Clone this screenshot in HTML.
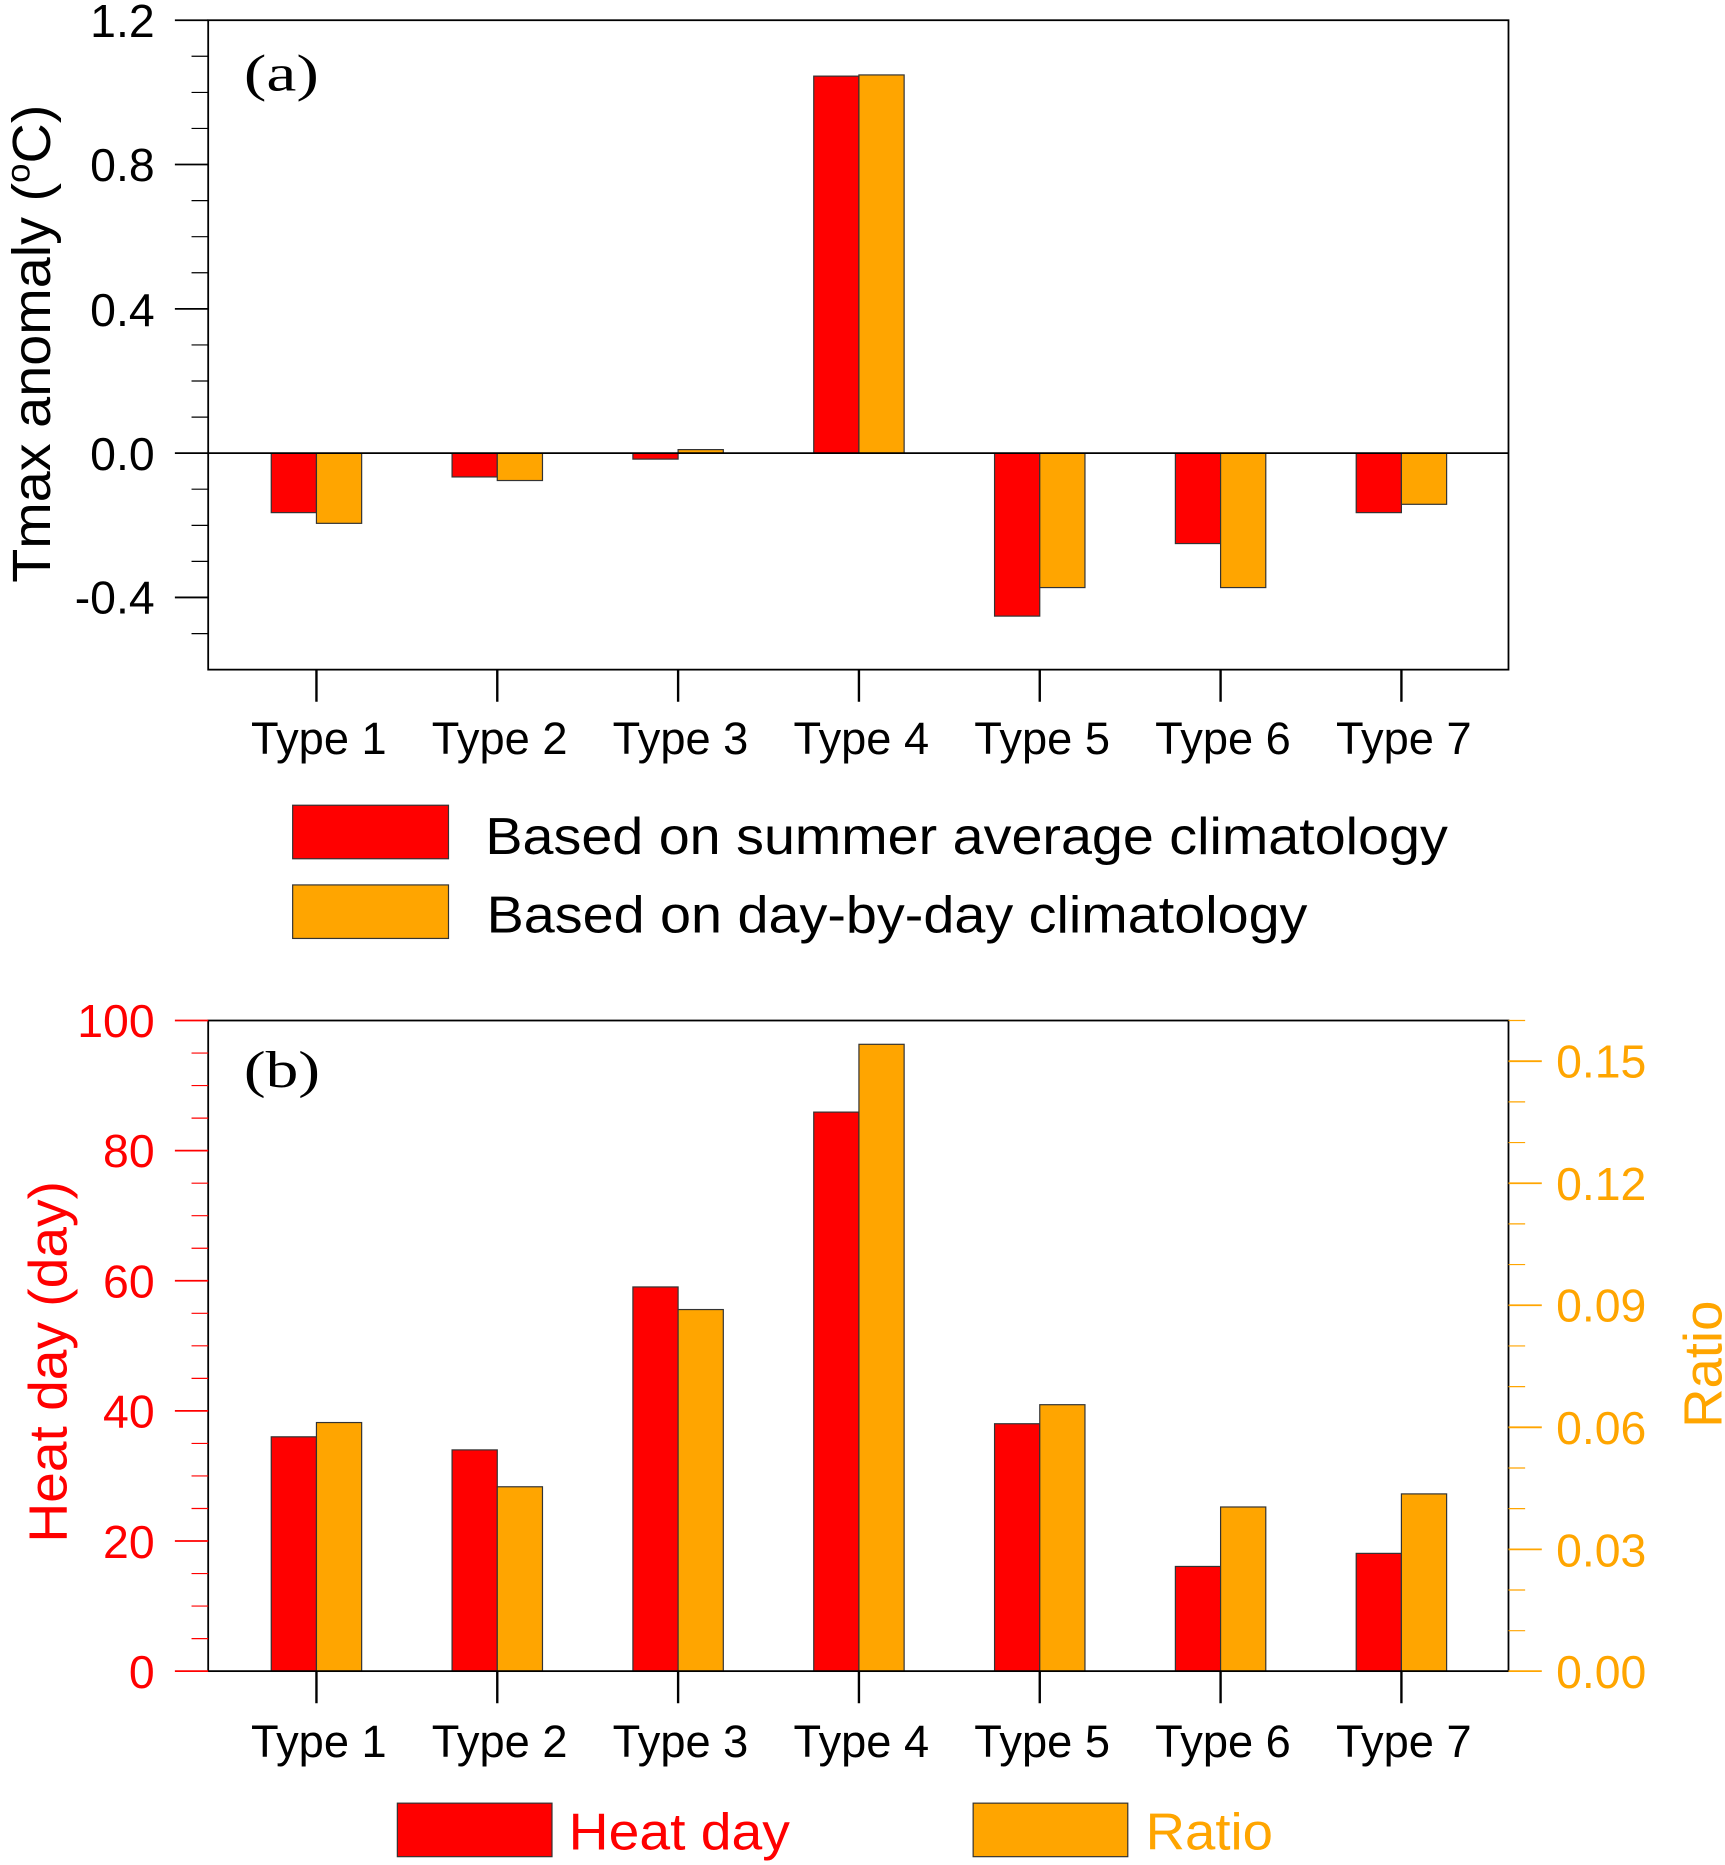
<!DOCTYPE html>
<html><head><meta charset="utf-8"><style>html,body{margin:0;padding:0;background:#fff}svg{display:block}</style></head>
<body>
<svg width="1725" height="1865" viewBox="0 0 1450 1568" preserveAspectRatio="none" xmlns="http://www.w3.org/2000/svg" font-family="Liberation Sans, sans-serif">
<rect width="1450" height="1568" fill="#fff"/>
<g id="a">
<g stroke="#333" stroke-width="1">
<rect x="228" y="381" width="38" height="50" fill="#ff0000"/>
<rect x="266" y="381" width="38" height="59" fill="#ffa500"/>
<rect x="380" y="381" width="38" height="20" fill="#ff0000"/>
<rect x="418" y="381" width="38" height="23" fill="#ffa500"/>
<rect x="532" y="381" width="38" height="5" fill="#ff0000"/>
<rect x="570" y="378" width="38" height="3" fill="#ffa500"/>
<rect x="684" y="64" width="38" height="317" fill="#ff0000"/>
<rect x="722" y="63" width="38" height="318" fill="#ffa500"/>
<rect x="836" y="381" width="38" height="137" fill="#ff0000"/>
<rect x="874" y="381" width="38" height="113" fill="#ffa500"/>
<rect x="988" y="381" width="38" height="76" fill="#ff0000"/>
<rect x="1026" y="381" width="38" height="113" fill="#ffa500"/>
<rect x="1140" y="381" width="38" height="50" fill="#ff0000"/>
<rect x="1178" y="381" width="38" height="43" fill="#ffa500"/>
</g>
<line x1="175" y1="381" x2="1268" y2="381" stroke="#000" stroke-width="1.5"/>
<rect x="175" y="17" width="1093" height="546" fill="none" stroke="#000" stroke-width="1.5"/>
<g stroke="#000" stroke-width="1.5">
<line x1="147" y1="17" x2="175" y2="17"/><line x1="147" y1="138.3" x2="175" y2="138.3"/><line x1="147" y1="259.7" x2="175" y2="259.7"/><line x1="147" y1="381" x2="175" y2="381"/><line x1="147" y1="502.3" x2="175" y2="502.3"/>
</g>
<g stroke="#000" stroke-width="1">
<line x1="161" y1="47.3" x2="175" y2="47.3"/><line x1="161" y1="77.7" x2="175" y2="77.7"/><line x1="161" y1="108" x2="175" y2="108"/>
<line x1="161" y1="168.7" x2="175" y2="168.7"/><line x1="161" y1="199" x2="175" y2="199"/><line x1="161" y1="229.3" x2="175" y2="229.3"/>
<line x1="161" y1="290" x2="175" y2="290"/><line x1="161" y1="320.3" x2="175" y2="320.3"/><line x1="161" y1="350.7" x2="175" y2="350.7"/>
<line x1="161" y1="411.3" x2="175" y2="411.3"/><line x1="161" y1="441.7" x2="175" y2="441.7"/><line x1="161" y1="472" x2="175" y2="472"/>
<line x1="161" y1="532.7" x2="175" y2="532.7"/>
</g>
<g stroke="#000" stroke-width="2">
<line x1="266" y1="563" x2="266" y2="590"/><line x1="418" y1="563" x2="418" y2="590"/><line x1="570" y1="563" x2="570" y2="590"/><line x1="722" y1="563" x2="722" y2="590"/><line x1="874" y1="563" x2="874" y2="590"/><line x1="1026" y1="563" x2="1026" y2="590"/><line x1="1178" y1="563" x2="1178" y2="590"/>
</g>
<g font-size="39" text-anchor="end">
<text x="130" y="31">1.2</text><text x="130" y="152">0.8</text><text x="130" y="274">0.4</text><text x="130" y="395">0.0</text><text x="130" y="516">-0.4</text>
</g>
<g font-size="38" text-anchor="middle">
<text x="268" y="634">Type 1</text><text x="420" y="634">Type 2</text><text x="572" y="634">Type 3</text><text x="724" y="634">Type 4</text><text x="876" y="634">Type 5</text><text x="1028" y="634">Type 6</text><text x="1180" y="634">Type 7</text>
</g>
<text x="205" y="76" font-family="Liberation Serif, serif" font-size="44" textLength="63" lengthAdjust="spacingAndGlyphs">(a)</text>
<text transform="translate(42,289) rotate(-90)" font-size="45" text-anchor="middle" textLength="402" lengthAdjust="spacingAndGlyphs">Tmax anomaly (<tspan font-size="28" dy="-17">o</tspan><tspan dy="17">C)</tspan></text>
<rect x="246" y="677" width="131" height="45" fill="#ff0000" stroke="#333" stroke-width="1"/>
<rect x="246" y="744" width="131" height="45" fill="#ffa500" stroke="#333" stroke-width="1"/>
<text x="408" y="718" font-size="44" textLength="809" lengthAdjust="spacingAndGlyphs">Based on summer average climatology</text>
<text x="409" y="784" font-size="44" textLength="690" lengthAdjust="spacingAndGlyphs">Based on day-by-day climatology</text>
</g>
<g id="b">
<g stroke="#333" stroke-width="1">
<rect x="228" y="1208" width="38" height="197" fill="#ff0000"/>
<rect x="266" y="1196" width="38" height="209" fill="#ffa500"/>
<rect x="380" y="1219" width="38" height="186" fill="#ff0000"/>
<rect x="418" y="1250" width="38" height="155" fill="#ffa500"/>
<rect x="532" y="1082" width="38" height="323" fill="#ff0000"/>
<rect x="570" y="1101" width="38" height="304" fill="#ffa500"/>
<rect x="684" y="935" width="38" height="470" fill="#ff0000"/>
<rect x="722" y="878" width="38" height="527" fill="#ffa500"/>
<rect x="836" y="1197" width="38" height="208" fill="#ff0000"/>
<rect x="874" y="1181" width="38" height="224" fill="#ffa500"/>
<rect x="988" y="1317" width="38" height="88" fill="#ff0000"/>
<rect x="1026" y="1267" width="38" height="138" fill="#ffa500"/>
<rect x="1140" y="1306" width="38" height="99" fill="#ff0000"/>
<rect x="1178" y="1256" width="38" height="149" fill="#ffa500"/>
</g>
<rect x="175" y="858" width="1093" height="547" fill="none" stroke="#000" stroke-width="1.5"/>
<g stroke="#ff0000" stroke-width="1.5">
<line x1="147" y1="858" x2="175" y2="858"/><line x1="147" y1="967.4" x2="175" y2="967.4"/><line x1="147" y1="1076.8" x2="175" y2="1076.8"/><line x1="147" y1="1186.2" x2="175" y2="1186.2"/><line x1="147" y1="1295.6" x2="175" y2="1295.6"/><line x1="147" y1="1405" x2="175" y2="1405"/>
</g>
<g stroke="#ff0000" stroke-width="1">
<line x1="161" y1="885.35" x2="175" y2="885.35"/><line x1="161" y1="912.7" x2="175" y2="912.7"/><line x1="161" y1="940.05" x2="175" y2="940.05"/>
<line x1="161" y1="994.75" x2="175" y2="994.75"/><line x1="161" y1="1022.1" x2="175" y2="1022.1"/><line x1="161" y1="1049.45" x2="175" y2="1049.45"/>
<line x1="161" y1="1104.15" x2="175" y2="1104.15"/><line x1="161" y1="1131.5" x2="175" y2="1131.5"/><line x1="161" y1="1158.85" x2="175" y2="1158.85"/>
<line x1="161" y1="1213.55" x2="175" y2="1213.55"/><line x1="161" y1="1240.9" x2="175" y2="1240.9"/><line x1="161" y1="1268.25" x2="175" y2="1268.25"/>
<line x1="161" y1="1322.95" x2="175" y2="1322.95"/><line x1="161" y1="1350.3" x2="175" y2="1350.3"/><line x1="161" y1="1377.65" x2="175" y2="1377.65"/>
</g>
<g stroke="#ffa500" stroke-width="1.5">
<line x1="1268" y1="892.2" x2="1296" y2="892.2"/><line x1="1268" y1="994.8" x2="1296" y2="994.8"/><line x1="1268" y1="1097.4" x2="1296" y2="1097.4"/><line x1="1268" y1="1200" x2="1296" y2="1200"/><line x1="1268" y1="1302.6" x2="1296" y2="1302.6"/><line x1="1268" y1="1405" x2="1296" y2="1405"/>
</g>
<g stroke="#ffa500" stroke-width="1">
<line x1="1268" y1="858" x2="1282" y2="858"/><line x1="1268" y1="926.4" x2="1282" y2="926.4"/><line x1="1268" y1="960.6" x2="1282" y2="960.6"/>
<line x1="1268" y1="1029" x2="1282" y2="1029"/><line x1="1268" y1="1063.2" x2="1282" y2="1063.2"/>
<line x1="1268" y1="1131.6" x2="1282" y2="1131.6"/><line x1="1268" y1="1165.8" x2="1282" y2="1165.8"/>
<line x1="1268" y1="1234.2" x2="1282" y2="1234.2"/><line x1="1268" y1="1268.4" x2="1282" y2="1268.4"/>
<line x1="1268" y1="1336.8" x2="1282" y2="1336.8"/><line x1="1268" y1="1371" x2="1282" y2="1371"/>
</g>
<g stroke="#000" stroke-width="2">
<line x1="266" y1="1405" x2="266" y2="1432"/><line x1="418" y1="1405" x2="418" y2="1432"/><line x1="570" y1="1405" x2="570" y2="1432"/><line x1="722" y1="1405" x2="722" y2="1432"/><line x1="874" y1="1405" x2="874" y2="1432"/><line x1="1026" y1="1405" x2="1026" y2="1432"/><line x1="1178" y1="1405" x2="1178" y2="1432"/>
</g>
<g font-size="39" text-anchor="end" fill="#ff0000">
<text x="130" y="872">100</text><text x="130" y="981">80</text><text x="130" y="1091">60</text><text x="130" y="1200">40</text><text x="130" y="1310">20</text><text x="130" y="1419">0</text>
</g>
<g font-size="39" fill="#ffa500">
<text x="1308" y="906">0.15</text><text x="1308" y="1009">0.12</text><text x="1308" y="1111">0.09</text><text x="1308" y="1214">0.06</text><text x="1308" y="1317">0.03</text><text x="1308" y="1419">0.00</text>
</g>
<g font-size="38" text-anchor="middle">
<text x="268" y="1477">Type 1</text><text x="420" y="1477">Type 2</text><text x="572" y="1477">Type 3</text><text x="724" y="1477">Type 4</text><text x="876" y="1477">Type 5</text><text x="1028" y="1477">Type 6</text><text x="1180" y="1477">Type 7</text>
</g>
<text x="205" y="914" font-family="Liberation Serif, serif" font-size="44" textLength="64" lengthAdjust="spacingAndGlyphs">(b)</text>
<text transform="translate(56,1145) rotate(-90)" font-size="45" text-anchor="middle" fill="#ff0000" textLength="304" lengthAdjust="spacingAndGlyphs">Heat day (day)</text>
<text transform="translate(1447,1147) rotate(-90)" font-size="45" text-anchor="middle" fill="#ffa500" textLength="107" lengthAdjust="spacingAndGlyphs">Ratio</text>
<rect x="334" y="1516" width="130" height="45" fill="#ff0000" stroke="#333" stroke-width="1"/>
<rect x="818" y="1516" width="130" height="45" fill="#ffa500" stroke="#333" stroke-width="1"/>
<text x="478" y="1555" font-size="44" fill="#ff0000" textLength="186" lengthAdjust="spacingAndGlyphs">Heat day</text>
<text x="963" y="1555" font-size="44" fill="#ffa500" textLength="107" lengthAdjust="spacingAndGlyphs">Ratio</text>
</g>
</svg>
</body></html>
